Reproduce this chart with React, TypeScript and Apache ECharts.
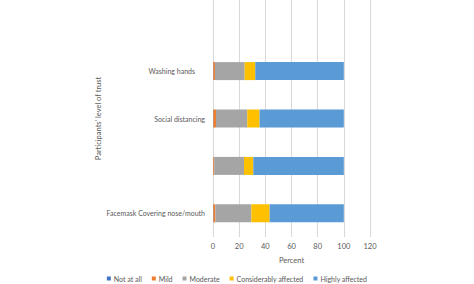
import React, { useEffect, useRef } from "react";
import * as echarts from "echarts";

// Rows from bottom to top; the unlabelled rows are kept as blank categories.
const categories = ["Facemask Covering nose/mouth", " ", "Social distancing", "Washing hands", "  "];
const seriesNames = ["Not at all", "Mild", "Moderate", "Considerably affected", "Highly affected"];
const notAtAll = [0.3, 0.2, 0.3, 0.3, null];
const mild = [1.5, 0.7, 2.0, 1.2, null];
const moderate = [27.5, 22.8, 23.9, 22.7, null];
const considerably = [14.0, 7.1, 9.4, 8.1, null];
const highly = [56.7, 69.2, 64.4, 67.7, null];
const xTicks = [0, 20, 40, 60, 80, 100, 120];

const colors = ["#4472C4", "#ED7D31", "#A5A5A5", "#FFC000", "#5B9BD5"];
const FONT = "Lato, 'Open Sans', sans-serif";
const TEXT = "#595959";

export default function App() {
  const ref = useRef<HTMLDivElement>(null);

  useEffect(() => {
    if (!ref.current) return;
    const chart = echarts.init(ref.current, undefined, { renderer: "svg" });
    const values = [notAtAll, mild, moderate, considerably, highly];
    chart.setOption({
      animation: false,
      color: colors,
      textStyle: { fontFamily: FONT, color: TEXT },
      grid: { left: 213, right: 104, top: 0, bottom: 47, containLabel: false },
      legend: {
        bottom: 2,
        left: "center",
        padding: 0,
        itemWidth: 4,
        itemHeight: 4,
        itemGap: 10,
        icon: "rect",
        textStyle: { fontSize: 7, color: TEXT, fontFamily: FONT, padding: [0, 0, 0, -2] },
        data: seriesNames,
      },
      xAxis: {
        type: "value",
        min: xTicks[0],
        max: xTicks[xTicks.length - 1],
        interval: 20,
        name: "Percent",
        nameLocation: "middle",
        nameGap: 19,
        nameTextStyle: { fontSize: 7.5, color: TEXT, fontFamily: FONT },
        axisLine: { show: false },
        axisTick: { show: false },
        axisLabel: { fontSize: 7.5, color: TEXT, margin: 5, fontFamily: FONT },
        splitLine: { show: true, lineStyle: { color: "#d9d9d9", width: 1 } },
      },
      yAxis: {
        type: "category",
        data: categories,
        name: "Participants' level of trust",
        nameLocation: "middle",
        nameGap: 107,
        nameRotate: 90,
        nameTextStyle: { fontSize: 7.5, color: TEXT, fontFamily: FONT },
        axisLine: { show: false },
        axisTick: { show: false },
        axisLabel: {
          fontSize: 7,
          color: TEXT,
          margin: 8,
          fontFamily: FONT,
          formatter: (v: string) => (v === "Washing hands" ? `{w|${v}}` : v),
          rich: { w: { fontSize: 7, color: TEXT, fontFamily: FONT, padding: [0, 10, 0, 0] } },
        },
        splitLine: { show: false },
      },
      series: seriesNames.map((name, i) => ({
        name,
        type: "bar",
        stack: "total",
        barWidth: 18,
        data: values[i],
        itemStyle: { color: colors[i] },
      })),
    });
    return () => chart.dispose();
  }, []);

  return <div ref={ref} style={{ width: 474, height: 284, position: "absolute", left: 0, top: 0 }} />;
}
